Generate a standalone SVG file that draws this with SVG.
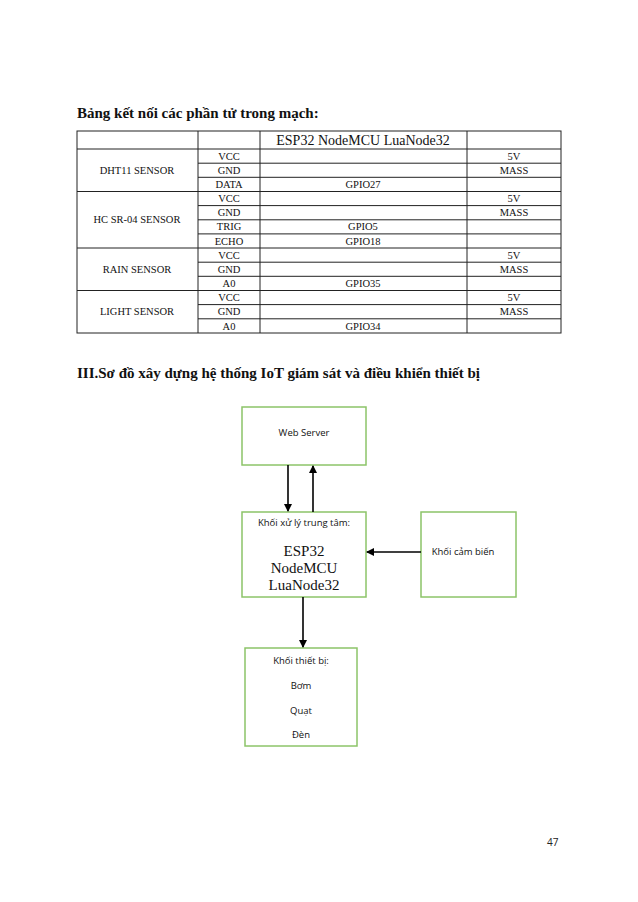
<svg xmlns="http://www.w3.org/2000/svg" width="638" height="902" viewBox="0 0 638 902">
<style>
.t{font-family:"Liberation Serif",serif;font-size:10.5px;fill:#111;text-anchor:middle}
.h{font-family:"Liberation Serif",serif;font-weight:bold;font-size:15px;fill:#111}
.s{font-family:"Open Sans","DejaVu Sans",sans-serif;font-size:9.5px;fill:#111;text-anchor:middle}
.box{fill:#fff;stroke:#8cc468;stroke-width:1.5}
.ln{stroke:#222;stroke-width:1;fill:none}
.c{stroke:#000;stroke-width:1.6;fill:none;marker-end:url(#a)}
</style>
<defs><marker id="a" markerWidth="8" markerHeight="8" refX="7" refY="4" orient="auto" markerUnits="userSpaceOnUse"><path d="M0,0L8,4L0,8z" fill="#000"/></marker></defs>
<rect width="638" height="902" fill="#fff"/>
<text class="h" x="77" y="118">Bảng kết nối các phần tử trong mạch:</text>
<g id="table">
<rect class="ln" x="77" y="131" width="484" height="202"/>
<path class="ln" d="M77 149H561M198 131V333M260 131V333M467 131V333
M198 163.2H561M198 177.3H561M77 191.5H561M198 205.6H561M198 219.8H561M198 233.9H561M77 248H561M198 262.2H561M198 276.3H561M77 290.5H561M198 304.6H561M198 318.8H561"/>
<text class="t" x="363" y="145" style="font-size:14px">ESP32 NodeMCU LuaNode32</text>
<text class="t" x="137" y="174">DHT11 SENSOR</text>
<text class="t" x="137" y="223">HC SR-04 SENSOR</text>
<text class="t" x="137" y="273">RAIN SENSOR</text>
<text class="t" x="137" y="315">LIGHT SENSOR</text>
<g>
<text class="t" x="229" y="160">VCC</text><text class="t" x="514" y="160">5V</text>
<text class="t" x="229" y="174">GND</text><text class="t" x="514" y="174">MASS</text>
<text class="t" x="229" y="188">DATA</text><text class="t" x="363" y="188">GPIO27</text>
<text class="t" x="229" y="202">VCC</text><text class="t" x="514" y="202">5V</text>
<text class="t" x="229" y="216">GND</text><text class="t" x="514" y="216">MASS</text>
<text class="t" x="229" y="230">TRIG</text><text class="t" x="363" y="230">GPIO5</text>
<text class="t" x="229" y="245">ECHO</text><text class="t" x="363" y="245">GPIO18</text>
<text class="t" x="229" y="259">VCC</text><text class="t" x="514" y="259">5V</text>
<text class="t" x="229" y="273">GND</text><text class="t" x="514" y="273">MASS</text>
<text class="t" x="229" y="287">A0</text><text class="t" x="363" y="287">GPIO35</text>
<text class="t" x="229" y="301">VCC</text><text class="t" x="514" y="301">5V</text>
<text class="t" x="229" y="315">GND</text><text class="t" x="514" y="315">MASS</text>
<text class="t" x="229" y="330">A0</text><text class="t" x="363" y="330">GPIO34</text>
</g>
</g>
<text class="h" x="77" y="378">III.Sơ đồ xây dựng hệ thống IoT giám sát và điều khiển thiết bị</text>
<g id="web"><rect class="box" x="242" y="407" width="124" height="58"/><text class="s" x="304" y="436">Web Server</text></g>
<g id="cpu"><rect class="box" x="242" y="512" width="124" height="85"/>
<text class="s" x="304" y="526">Khối xử lý trung tâm:</text>
<text class="t" x="304" y="556" style="font-size:15px">ESP32</text>
<text class="t" x="304" y="573" style="font-size:15px">NodeMCU</text>
<text class="t" x="304" y="590" style="font-size:15px">LuaNode32</text></g>
<g id="sensor"><rect class="box" x="421" y="512" width="95" height="85"/><text class="s" x="463" y="555">Khối cảm biến</text></g>
<g id="device"><rect class="box" x="245" y="648" width="112" height="98"/>
<text class="s" x="301" y="664">Khối thiết bị:</text>
<text class="s" x="301" y="689">Bơm</text>
<text class="s" x="301" y="714">Quạt</text>
<text class="s" x="301" y="738">Đèn</text></g>
<g id="connectors">
<path class="c" d="M288 465V511"/>
<path class="c" d="M313 512V466"/>
<path class="c" d="M421 552H367"/>
<path class="c" d="M303 597V647"/>
</g>
<text x="547" y="846" style="font-family:'Open Sans',sans-serif;font-size:10px;fill:#222">47</text>
</svg>
